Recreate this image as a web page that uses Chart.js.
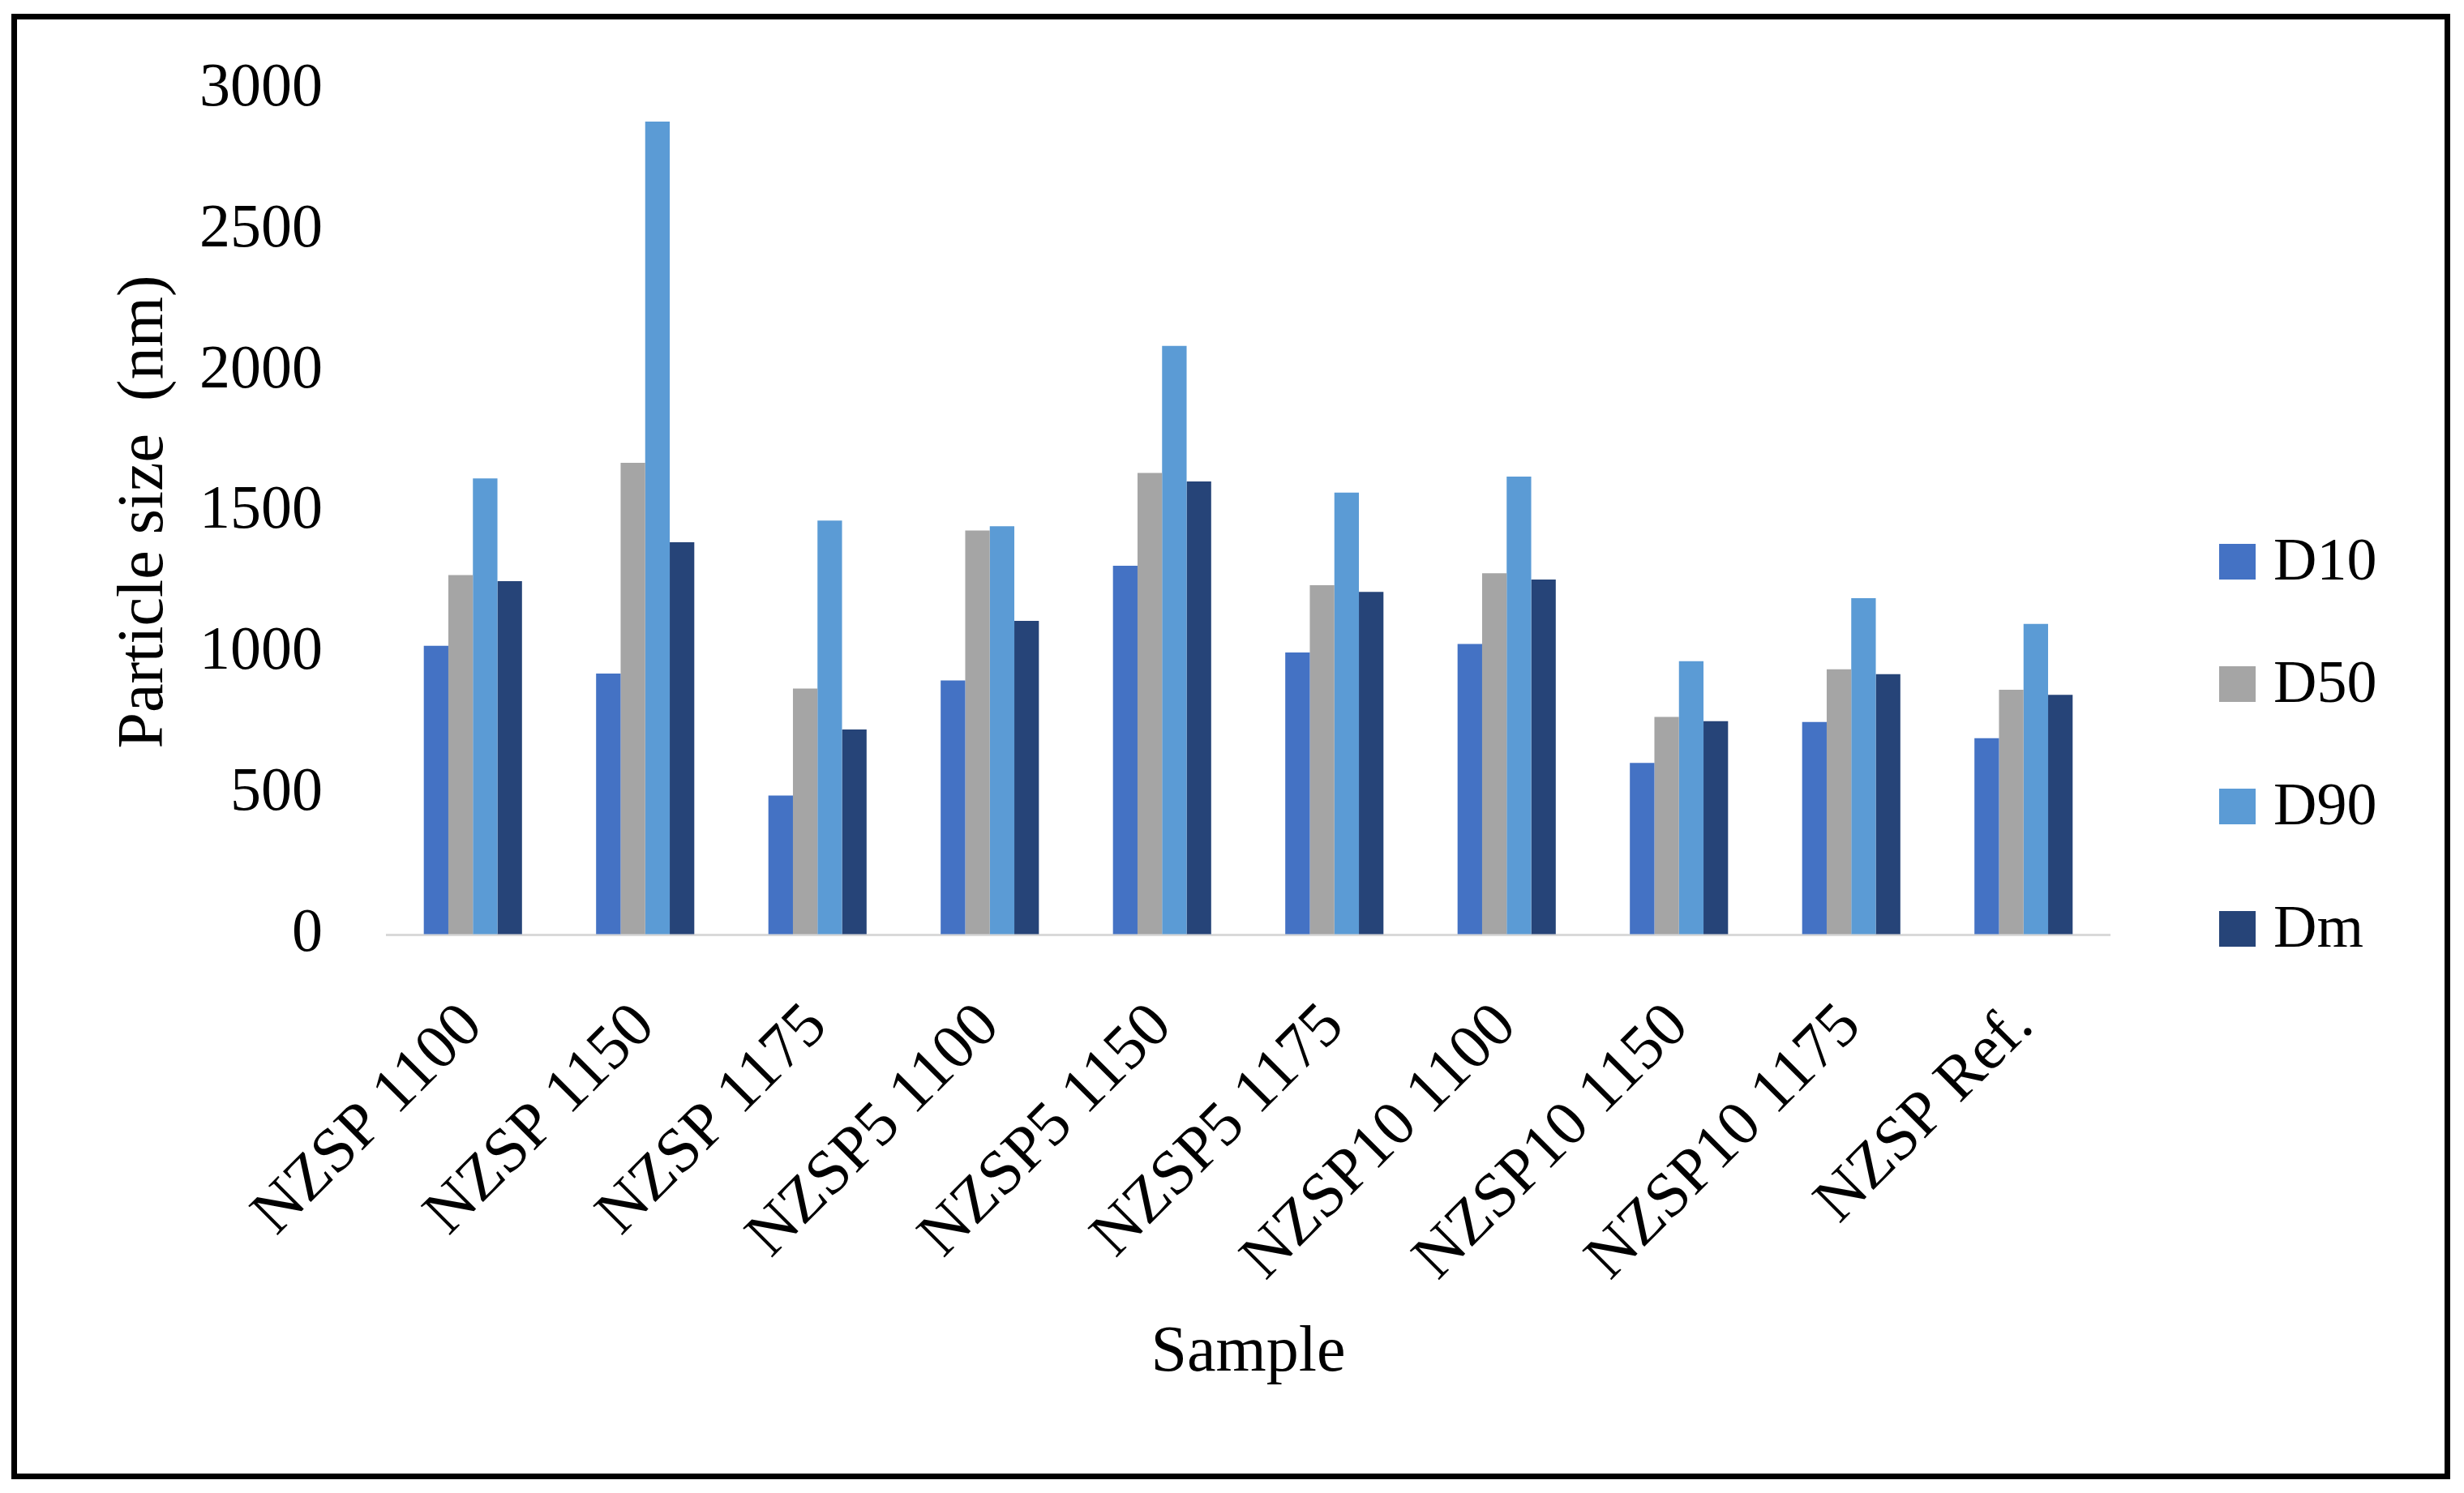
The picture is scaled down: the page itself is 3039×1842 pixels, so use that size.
<!DOCTYPE html>
<html>
<head>
<meta charset="utf-8">
<script src="https://cdn.jsdelivr.net/npm/chart.js@4/dist/chart.umd.min.js"></script>
<style>
  html, body { margin: 0; padding: 0; background: #fff; }
  #wrap { position: relative; width: 3039px; height: 1842px; overflow: hidden; }
  #frame { position: absolute; left: 14px; top: 17px; width: 3008px; height: 1808px;
           border: 7px solid #000; box-sizing: border-box; pointer-events: none; }
  canvas { position: absolute; left: 0; top: 0; }
</style>
</head>
<body>
<div id="wrap">
  <canvas id="chart" width="3039" height="1842"></canvas>
  <div id="frame"></div>
</div>
<script>
// samples on the x axis
const samples = ['NZSP 1100', 'NZSP 1150', 'NZSP 1175', 'NZSP5 1100', 'NZSP5 1150',
  'NZSP5 1175', 'NZSP10 1100', 'NZSP10 1150', 'NZSP10 1175', 'NZSP Ref.']

// particle sizes in nm
const d10 = [1025, 926, 493, 902, 1309, 1001, 1031, 609, 754, 697]
const d50 = [1276, 1674, 873, 1434, 1638, 1240, 1282, 772, 941, 869]
const d90 = [1619, 2885, 1469, 1449, 2089, 1568, 1625, 970, 1194, 1102]
const dm = [1254, 1392, 728, 1113, 1608, 1216, 1260, 757, 924, 851]

const yTicks = [0, 500, 1000, 1500, 2000, 2500, 3000]

const serif = '"Liberation Serif", "Times New Roman", serif'

// legend drawn down the right side, one row per dataset
const sideLegend = {
  id: 'sideLegend',
  afterDraw (chart, args, opts) {
    const ctx = chart.ctx
    ctx.save()
    ctx.font = '74px ' + serif
    ctx.textBaseline = 'middle'
    ctx.textAlign = 'left'
    chart.data.datasets.forEach((ds, i) => {
      const y = opts.top + i * opts.step
      ctx.fillStyle = ds.backgroundColor
      ctx.fillRect(opts.x, y - 22, 45, 44)
      ctx.fillStyle = '#000'
      ctx.fillText(ds.label, opts.x + 67, y + 3)
    })
    ctx.restore()
  }
}

function bars (label, data, color) {
  return { label: label, data: data, backgroundColor: color, borderWidth: 0 }
}

new Chart(document.getElementById('chart').getContext('2d'), {
  type: 'bar',
  data: {
    labels: samples,
    datasets: [
      bars('D10', d10, '#4472C4'),
      bars('D50', d50, '#A5A5A5'),
      bars('D90', d90, '#5B9BD5'),
      bars('Dm', dm, '#264478')
    ]
  },
  options: {
    responsive: false,
    devicePixelRatio: 1,
    animation: false,
    categoryPercentage: 0.57,
    barPercentage: 1,
    layout: { padding: { left: 100, top: 110, right: 437, bottom: 112 } },
    plugins: {
      legend: { display: false },
      tooltip: { enabled: false },
      sideLegend: { x: 2737, top: 693, step: 151 }
    },
    scales: {
      x: {
        grid: { display: false, drawTicks: false },
        border: { display: true, color: '#D9D9D9', width: 3 },
        ticks: {
          color: '#000',
          font: { family: serif, size: 78 },
          minRotation: 45,
          maxRotation: 45,
          padding: 68,
          autoSkip: false
        },
        title: {
          display: true,
          text: 'Sample',
          color: '#000',
          font: { family: serif, size: 80 },
          padding: { top: 0, bottom: 12 }
        },
        afterFit: (scale) => { scale.height = 577 }
      },
      y: {
        min: 0,
        max: 3000,
        // invisible tick marks keep the labels away from the plot
        grid: { display: true, drawOnChartArea: false, drawTicks: true, tickLength: 76, color: 'rgba(0,0,0,0)' },
        border: { display: false },
        afterBuildTicks: (scale) => { scale.ticks = yTicks.map((v) => ({ value: v })) },
        ticks: {
          color: '#000',
          font: { family: serif, size: 76 },
          padding: 3,
          callback: (v) => String(v)
        },
        title: {
          display: true,
          text: 'Particle size  (nm)',
          color: '#000',
          font: { family: serif, size: 80 },
          padding: { top: 31, bottom: 0 }
        },
        afterFit: (scale) => { scale.width = 377 }
      }
    }
  },
  plugins: [sideLegend]
})
</script>
</body>
</html>
